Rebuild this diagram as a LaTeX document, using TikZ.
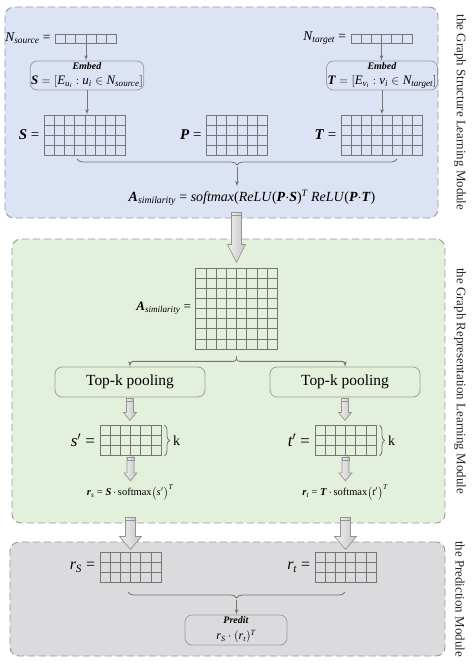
\documentclass[tikz,border=0pt]{standalone}
\usepackage{amsmath}
\usepackage{fontspec}
\setmainfont{Liberation Serif}
\usetikzlibrary{arrows,positioning,calc,decorations.pathreplacing}

\definecolor{gslblue}{RGB}{220,227,244}
\definecolor{grlgreen}{RGB}{227,240,220}
\definecolor{prmgray}{RGB}{219,219,222}
\definecolor{linegray}{RGB}{118,118,118}

\newcommand{\bi}[1]{\textbf{\textit{#1}}}
\newcommand{\ti}[1]{\textit{#1}}
\newcommand{\fs}[1]{\fontsize{#1}{#1}\selectfont}

\begin{document}
\begin{tikzpicture}[x=1bp,y=-1bp,node distance=1bp,auto]
    \tikzset{
      module/.style={rectangle,rounded corners=9bp,draw=gray!80,dash pattern=on 7bp off 4bp,line width=0.9bp,inner sep=0pt},
      sidelabel/.style={rotate=-90,font=\fs{13},text=black!85},
      cells/.style 2 args={rectangle,draw=linegray,line width=0.7bp,inner sep=0pt,minimum width=#1*10.2bp,minimum height=#2*10bp,
        path picture={
          \foreach \i in {1,...,#1}
            \draw[linegray,line width=0.7bp] ($(path picture bounding box.north west)!\i/#1!(path picture bounding box.north east)$) -- ($(path picture bounding box.south west)!\i/#1!(path picture bounding box.south east)$);
          \foreach \j in {1,...,#2}
            \draw[linegray,line width=0.7bp] ($(path picture bounding box.north west)!\j/#2!(path picture bounding box.south west)$) -- ($(path picture bounding box.north east)!\j/#2!(path picture bounding box.south east)$);
        }},
      roundbox/.style={rectangle,rounded corners=7bp,draw=gray!75,line width=0.8bp,inner sep=1bp,align=center},
      arrow/.style={->,>=latex',draw=linegray,line width=0.8bp},
      curly/.style={decorate,decoration={brace,amplitude=6bp},draw=linegray,line width=0.8bp},
      fatstyle/.style={draw=gray!85,line width=0.7bp,left color=gray!12,right color=gray!45},
      pics/fatarrow/.style n args={4}{code={
        \draw[fatstyle] (-#2,0) -- (#2,0) -- (#2,#1-#4) -- (#3,#1-#4) -- (0,#1) -- (-#3,#1-#4) -- (-#2,#1-#4) -- cycle;
        \draw[fatstyle] (-#2,0) rectangle (#2,3);
      }}
    }
    \useasboundingbox (0,0) rectangle (474,665);

    % the three modules
    \node[module,fill=gslblue,minimum width=433bp,minimum height=211bp] (gsl) at (221.5,112.5) {};
    \node[module,fill=grlgreen,minimum width=433bp,minimum height=284bp] (grl) at (228.5,381) {};
    \node[module,fill=prmgray,minimum width=435bp,minimum height=114bp] (prm) at (227.5,599) {};
    \node[sidelabel] (gsllab) at (460,112.5) {the Graph Structure Learning Module};
    \node[sidelabel] (grllab) at (460,381) {the Graph Representation Learning Module};
    \node[sidelabel] (prmlab) at (460,599) {the Prediction Module};

    % graph structure learning
    \node[cells={6}{1},minimum height=9bp] (nsrc) at (86,38.5) {};
    \node[left=1bp of nsrc,font=\fs{13.5}] (nsrclab) {$\ti{N}_{\ti{source}}$ =};
    \node[cells={6}{1},minimum height=9bp] (ntgt) at (381.5,38.5) {};
    \node[left=1bp of ntgt,font=\fs{13.5}] (ntgtlab) {$\ti{N}_{\ti{target}}$ =};
    \node[roundbox,minimum width=104bp,minimum height=29bp,font=\fontsize{13}{15}\selectfont] (embS) at (87,75.5) {{\fs{10}\bi{Embed}}\\ \bi{S} $=[\ti{E}_{\ti{u}_{\ti{i}}}:\ti{u}_{\ti{i}}\in \ti{N}_{\ti{source}}]$};
    \node[roundbox,minimum width=102bp,minimum height=29bp,font=\fontsize{13}{15}\selectfont] (embT) at (382,75.5) {{\fs{10}\bi{Embed}}\\ \bi{T} $=[\ti{E}_{\ti{v}_{\ti{i}}}:\ti{v}_{\ti{i}}\in \ti{N}_{\ti{target}}]$};
    \node[cells={8}{4}] (S) at (85,135) {};
    \node[left=1bp of S,font=\fs{15}] (Slab) {\bi{S} =};
    \node[cells={6}{4}] (P) at (237,135) {};
    \node[left=1bp of P,font=\fs{15}] (Plab) {\bi{P} =};
    \node[cells={8}{4}] (T) at (382,135) {};
    \node[left=1bp of T,font=\fs{15}] (Tlab) {\bi{T} =};
    \node[font=\fs{14}] (simform) at (252,198) {$\bi{A}_{\ti{similarity}}$ = \ti{softmax}(\ti{ReLU}(\bi{P}$\cdot$\bi{S})$^{\ti{T}}$ \ti{ReLU}(\bi{P}$\cdot$\bi{T})};

    \draw[arrow] (nsrc.south) -- (nsrc.south |- embS.north);
    \draw[arrow] (ntgt.south) -- (ntgt.south |- embT.north);
    \draw[arrow] (embS.south) -- (embS.south |- S.north);
    \draw[arrow] (embT.south) -- (embT.south |- T.north);
    \coordinate (topbraceL) at (77,159);
    \coordinate (topbraceR) at (397,159);
    \coordinate (topbraceTip) at ($(topbraceL)!0.5!(topbraceR)+(0,8)$);
    \draw[curly,decoration={mirror}] (topbraceL) -- (topbraceR);
    \draw[arrow] (topbraceTip) -- (topbraceTip |- simform.north);

    % graph representation learning
    \node[cells={8}{8},minimum height=81bp] (A) at (236.5,308.5) {};
    \node[left=1bp of A,font=\fs{13}] (Alab) {$\bi{A}_{\ti{similarity}}$ =};
    \path ($(A.north |- gsl.south)+(0,-6)$) pic {fatarrow={50}{5}{9}{18}};
    \node[roundbox,minimum width=150bp,minimum height=30bp,font=\fs{15.5}] (poolL) at (130,382) {Top-k pooling};
    \node[roundbox,minimum width=150bp,minimum height=30bp,font=\fs{15.5}] (poolR) at (345,382) {Top-k pooling};
    \draw[arrow,rounded corners=3bp] ($(A.south)+(0,7)$) -- ++(0,5) -| (poolL.north);
    \draw[arrow,rounded corners=3bp] ($(A.south)+(0,7)$) -- ++(0,5) -| (poolR.north);

    \node[cells={6}{3}] (sp) at (130.5,440.5) {};
    \node[left=1bp of sp,font=\fs{17}] (splab) {$\ti{s}'$ =};
    \node[cells={6}{3}] (tp) at (345.5,440.5) {};
    \node[left=1bp of tp,font=\fs{17}] (tplab) {$\ti{t}'$ =};
    \draw[curly,decoration={amplitude=5bp}] ([xshift=3bp]sp.north east) -- ([xshift=3bp]sp.south east) node[midway,right=5bp,font=\fs{14}] (spk) {k};
    \draw[curly,decoration={amplitude=5bp}] ([xshift=3bp]tp.north east) -- ([xshift=3bp]tp.south east) node[midway,right=5bp,font=\fs{14}] (tpk) {k};
    \path ($(poolL.south)+(0,1)$) pic {fatarrow={22}{3.5}{6.5}{8}};
    \path ($(poolR.south)+(0,1)$) pic {fatarrow={22}{3.5}{6.5}{8}};
    \path ($(sp.south)+(0,1)$) pic {fatarrow={24}{3.5}{6.5}{8}};
    \path ($(tp.south)+(0,1)$) pic {fatarrow={24}{3.5}{6.5}{8}};
    \node[font=\fs{10.5}] (rsform) at (130,492) {\bi{r}$_{\ti{s}}$ = \bi{S}$\,\cdot\,$softmax$\bigl(\ti{s}'\bigr)^{\ti{T}}$};
    \node[font=\fs{10.5}] (rtform) at (345,492) {\bi{r}$_{\ti{t}}$ = \bi{T}$\,\cdot\,$softmax$\bigl(\ti{t}'\bigr)^{\ti{T}}$};

    % prediction
    \node[cells={6}{3}] (rs) at (130.5,567.5) {};
    \node[left=1bp of rs,font=\fs{16}] (rslab) {$\ti{r}_{\ti{S}}$ =};
    \node[cells={6}{3}] (rt) at (345.5,567.5) {};
    \node[left=1bp of rt,font=\fs{16}] (rtlab) {$\ti{r}_{\ti{t}}$ =};
    \path ($(rs.north |- grl.south)+(0,-6)$) pic {fatarrow={32}{5}{11}{13}};
    \path ($(rt.north |- grl.south)+(0,-6)$) pic {fatarrow={32}{5}{11}{13}};
    \node[roundbox,minimum width=102bp,minimum height=30bp,inner sep=0pt,font=\fontsize{12}{14}\selectfont] (pred) at (236,630) {{\fs{10}\bi{Predit}}\\[2bp] $\ti{r}_{\ti{S}}\cdot(\ti{r}_{\ti{t}})^{\ti{T}}$};
    \coordinate (botbraceL) at (128,592);
    \coordinate (botbraceR) at (345,592);
    \coordinate (botbraceTip) at ($(botbraceL)!0.5!(botbraceR)+(0,8)$);
    \draw[curly,decoration={mirror}] (botbraceL) -- (botbraceR);
    \draw[arrow] (botbraceTip) -- (botbraceTip |- pred.north);
\end{tikzpicture}
\end{document}
